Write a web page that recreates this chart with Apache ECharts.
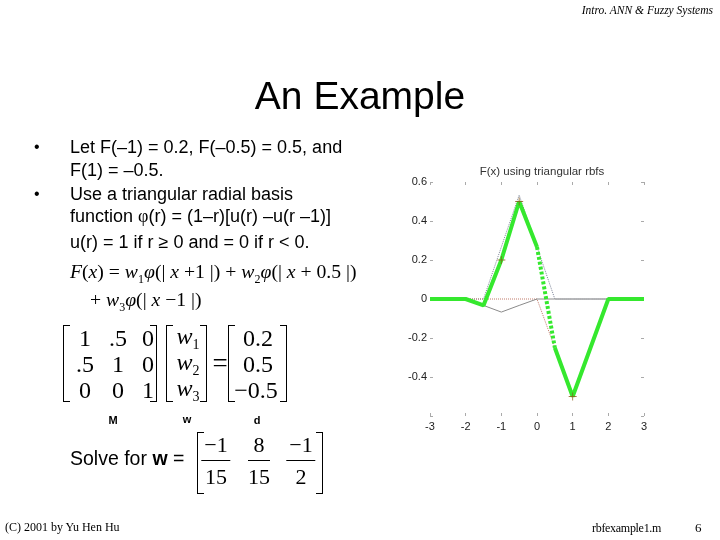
<!DOCTYPE html>
<html>
<head>
<meta charset="utf-8">
<script src="https://cdn.jsdelivr.net/npm/echarts@6/dist/echarts.min.js"></script>
<style>
  html, body { margin:0; padding:0; background:#fff; }
  #wrap { position:relative; width:720px; height:540px; overflow:hidden; }
  #chart { position:absolute; left:0; top:0; width:720px; height:540px; }
  .t { position:absolute; white-space:nowrap; color:#000; line-height:1; }
  .sans { font-family:"Liberation Sans", Arial, sans-serif; }
  .serif { font-family:"Liberation Serif", "Times New Roman", serif; }
  .bl { position:absolute; border-left:1.5px solid #000; border-top:1.5px solid #000; border-bottom:1.5px solid #000; width:6px; }
  .br { position:absolute; border-right:1.5px solid #000; border-top:1.5px solid #000; border-bottom:1.5px solid #000; width:6px; }
  .c { transform:translate(-50%,-50%); }
  .m { font-size:24px; }
  .frac { position:absolute; transform:translate(-50%,-50%); text-align:center; font-family:"Liberation Serif", serif; font-size:22px; line-height:1; }
  .frac .n { display:block; padding:0 3px 4px; border-bottom:1px solid #000; }
  .frac .d { display:block; padding-top:5px; }
</style>
</head>
<body>
<div id="wrap">
  <div id="chart"></div>

  <div class="t serif" style="right:7px; top:5px; font-size:11.5px; font-style:italic;">Intro. ANN &amp; Fuzzy Systems</div>
  <div class="t sans c" style="left:360px; top:95px; font-size:39px;">An Example</div>

  <div class="t sans" style="left:34px; top:139px; font-size:16px;">•</div>
  <div class="t sans" style="left:70px; top:138px; font-size:18px;">Let F(–1) = 0.2, F(–0.5) = 0.5, and</div>
  <div class="t sans" style="left:70px; top:161px; font-size:18px;">F(1) = –0.5.</div>
  <div class="t sans" style="left:34px; top:186px; font-size:16px;">•</div>
  <div class="t sans" style="left:70px; top:185px; font-size:18px;">Use a triangular radial basis</div>
  <div class="t sans" style="left:70px; top:207px; font-size:18px;">function <span class="serif">φ</span>(r) = (1–r)[u(r) –u(r –1)]</div>
  <div class="t sans" style="left:70px; top:233px; font-size:18px;">u(r) = 1 if r ≥ 0 and = 0 if r &lt; 0.</div>

  <div class="t serif" style="left:70px; top:262px; font-size:19.7px;"><i>F</i>(<i>x</i>) = <i>w</i><sub style="font-size:12px">1</sub><i>φ</i>(| <i>x</i> +1 |) + <i>w</i><sub style="font-size:12px">2</sub><i>φ</i>(| <i>x</i> + 0.5 |)</div>
  <div class="t serif" style="left:90px; top:290px; font-size:19.7px;">+ <i>w</i><sub style="font-size:12px">3</sub><i>φ</i>(| <i>x</i> −1 |)</div>

  <!-- matrix M -->
  <div class="bl" style="left:63px; top:325px; height:75px;"></div>
  <div class="br" style="left:150px; top:325px; height:75px;"></div>
  <div class="t serif c m" style="left:85px; top:338px;">1</div>
  <div class="t serif c m" style="left:118px; top:338px;">.5</div>
  <div class="t serif c m" style="left:148px; top:338px;">0</div>
  <div class="t serif c m" style="left:85px; top:364px;">.5</div>
  <div class="t serif c m" style="left:118px; top:364px;">1</div>
  <div class="t serif c m" style="left:148px; top:364px;">0</div>
  <div class="t serif c m" style="left:85px; top:390px;">0</div>
  <div class="t serif c m" style="left:118px; top:390px;">0</div>
  <div class="t serif c m" style="left:148px; top:390px;">1</div>
  <!-- vector w -->
  <div class="bl" style="left:166px; top:325px; height:75px;"></div>
  <div class="br" style="left:200px; top:325px; height:75px;"></div>
  <div class="t serif c m" style="left:188px; top:338px;"><i>w</i><sub style="font-size:14px">1</sub></div>
  <div class="t serif c m" style="left:188px; top:364px;"><i>w</i><sub style="font-size:14px">2</sub></div>
  <div class="t serif c m" style="left:188px; top:390px;"><i>w</i><sub style="font-size:14px">3</sub></div>
  <div class="t serif c" style="left:220px; top:363px; font-size:27px;">=</div>
  <!-- vector d -->
  <div class="bl" style="left:228px; top:325px; height:75px;"></div>
  <div class="br" style="left:280px; top:325px; height:75px;"></div>
  <div class="t serif c m" style="left:258px; top:338px;">0.2</div>
  <div class="t serif c m" style="left:258px; top:364px;">0.5</div>
  <div class="t serif c m" style="left:256px; top:390px;">−0.5</div>

  <div class="t sans c" style="left:113px; top:420px; font-size:11px; font-weight:bold;">M</div>
  <div class="t sans c" style="left:187px; top:419px; font-size:11px; font-weight:bold;">w</div>
  <div class="t sans c" style="left:257px; top:420px; font-size:11px; font-weight:bold;">d</div>

  <div class="t sans" style="left:70px; top:449px; font-size:19.5px;">Solve for <b>w</b> =</div>
  <div class="bl" style="left:197px; top:432px; height:60px;"></div>
  <div class="br" style="left:316px; top:432px; height:60px;"></div>
  <div class="frac" style="left:216px; top:461px;"><span class="n">−1</span><span class="d">15</span></div>
  <div class="frac" style="left:259px; top:461px;"><span class="n">8</span><span class="d">15</span></div>
  <div class="frac" style="left:301px; top:461px;"><span class="n">−1</span><span class="d">2</span></div>

  <div class="t serif" style="left:5px; top:521px; font-size:12px;">(C) 2001 by Yu Hen Hu</div>
  <div class="t serif" style="left:592px; top:522px; font-size:12px; letter-spacing:-0.3px;">rbfexample1.m</div>
  <div class="t serif" style="left:695px; top:521px; font-size:13px;">6</div>
</div>

<script>
// ---- data ----
const X_GRID   = [-3, -2.5, -2, -1.5, -1, -0.5, 0, 0.5, 1, 1.5, 2, 2.5, 3];
const F_VALUES = [0, 0, 0, -0.033, 0.2, 0.5, 0.267, -0.25, -0.5, -0.25, 0, 0, 0];
const PHI1_W   = [0, 0, 0, -0.033, -0.067, -0.033, 0, 0, 0, 0, 0, 0, 0];
const PHI2_W   = [0, 0, 0, 0, 0.267, 0.533, 0.267, 0, 0, 0, 0, 0, 0];
const PHI3_W   = [0, 0, 0, 0, 0, 0, 0, -0.25, -0.5, -0.25, 0, 0, 0];
const TRAIN_X  = [-1, -0.5, 1];
const TRAIN_Y  = [0.2, 0.5, -0.5];
const X_TICKS  = [-3, -2, -1, 0, 1, 2, 3];
const Y_TICKS  = [-0.6, -0.4, -0.2, 0, 0.2, 0.4, 0.6];
const TITLE    = 'F(x) using triangular rbfs';

function pairs(xs, ys, from, to) {
  const out = [];
  for (let i = from; i <= to; i++) out.push([xs[i], ys[i]]);
  return out;
}
const iZero = X_GRID.indexOf(0), iHalf = X_GRID.indexOf(0.5);

const chart = echarts.init(document.getElementById('chart'));
const tickStyle = { inside: true, length: 3, lineStyle: { color: '#aaa', width: 1 } };
const labelFont = { color: '#222', fontSize: 11, fontFamily: 'Liberation Sans, Arial, sans-serif' };
const noLine = { show: false, onZero: false };
const GREEN = '#35e82e';

chart.setOption({
  animation: false,
  backgroundColor: 'transparent',
  title: {
    text: TITLE, left: 537, top: 161, textAlign: 'center',
    textStyle: { fontSize: 11.5, fontWeight: 'normal', color: '#333', fontFamily: 'Liberation Sans, Arial, sans-serif' }
  },
  grid: { left: 430, right: 76, top: 182, bottom: 124, containLabel: false },
  xAxis: [
    { type: 'value', min: X_TICKS[0], max: X_TICKS[X_TICKS.length - 1], interval: 1, position: 'bottom',
      axisLine: noLine, axisTick: tickStyle, splitLine: { show: false },
      axisLabel: Object.assign({ margin: 5 }, labelFont) },
    { type: 'value', min: X_TICKS[0], max: X_TICKS[X_TICKS.length - 1], interval: 1, position: 'top',
      axisLine: noLine, axisTick: tickStyle, splitLine: { show: false }, axisLabel: { show: false } }
  ],
  yAxis: [
    { type: 'value', min: Y_TICKS[0], max: Y_TICKS[Y_TICKS.length - 1], interval: 0.2, position: 'left',
      axisLine: noLine, axisTick: tickStyle, splitLine: { show: false },
      axisLabel: Object.assign({ margin: 3,
        formatter: v => (Math.abs(v - Y_TICKS[0]) < 1e-9 ? '' : String(Math.round(v * 10) / 10)) }, labelFont) },
    { type: 'value', min: Y_TICKS[0], max: Y_TICKS[Y_TICKS.length - 1], interval: 0.2, position: 'right',
      axisLine: noLine, axisTick: tickStyle, splitLine: { show: false }, axisLabel: { show: false } }
  ],
  series: [
    { name: 'w2 phi2', type: 'line', data: pairs(X_GRID, PHI2_W, 0, X_GRID.length - 1), symbol: 'none',
      lineStyle: { color: '#7d8598', width: 1, type: 'dotted' }, z: 2 },
    { name: 'w3 phi3', type: 'line', data: pairs(X_GRID, PHI3_W, 0, X_GRID.length - 1), symbol: 'none',
      lineStyle: { color: '#c07a6a', width: 1, type: 'dotted' }, z: 3 },
    { name: 'w1 phi1', type: 'line', data: pairs(X_GRID, PHI1_W, 0, X_GRID.length - 1), symbol: 'none',
      lineStyle: { color: '#8a8a8a', width: 1 }, z: 4 },
    { name: 'F left', type: 'line', data: pairs(X_GRID, F_VALUES, 0, iZero), symbol: 'none',
      lineStyle: { color: GREEN, width: 4 }, z: 5 },
    { name: 'F mid', type: 'line', data: pairs(X_GRID, F_VALUES, iZero, iHalf), symbol: 'none',
      lineStyle: { color: GREEN, width: 4, type: [3, 2] }, z: 5 },
    { name: 'F right', type: 'line', data: pairs(X_GRID, F_VALUES, iHalf, X_GRID.length - 1), symbol: 'none',
      lineStyle: { color: GREEN, width: 4 }, z: 5 },
    { name: 'train', type: 'scatter', data: TRAIN_X.map((x, i) => [x, TRAIN_Y[i]]),
      symbol: 'path://M4,0 L5,0 L5,4 L9,4 L9,5 L5,5 L5,9 L4,9 L4,5 L0,5 L0,4 L4,4 Z', symbolSize: 8,
      itemStyle: { color: '#8a5a1a' }, z: 6 }
  ]
});
</script>
</body>
</html>
